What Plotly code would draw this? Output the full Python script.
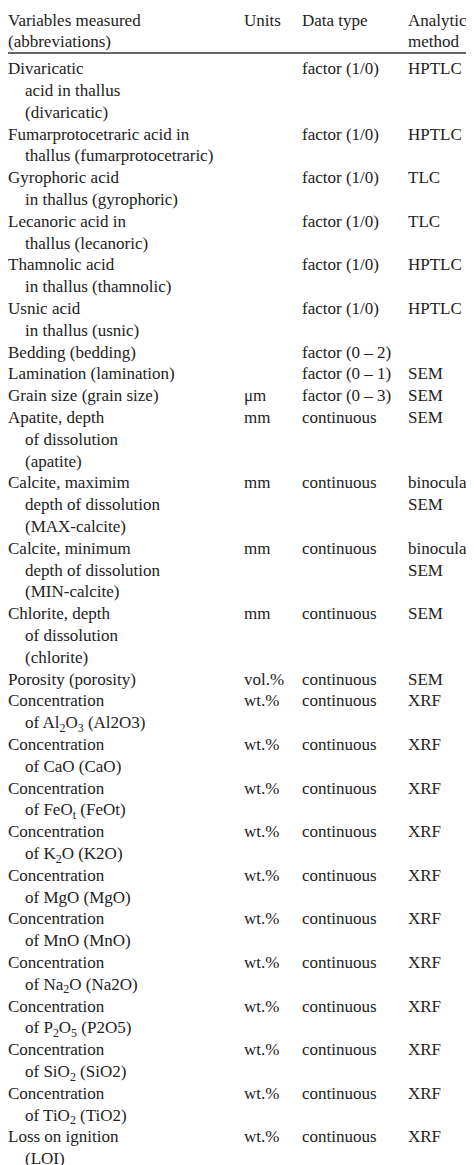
import plotly.graph_objects as go

# Table contents: variable name lines, units, data type, method
variables = [
    ["Divaricatic", "acid in thallus", "(divaricatic)"],
    ["Fumarprotocetraric acid in", "thallus (fumarprotocetraric)"],
    ["Gyrophoric acid", "in thallus (gyrophoric)"],
    ["Lecanoric acid in", "thallus (lecanoric)"],
    ["Thamnolic acid", "in thallus (thamnolic)"],
    ["Usnic acid", "in thallus (usnic)"],
    ["Bedding (bedding)"],
    ["Lamination (lamination)"],
    ["Grain size (grain size)"],
    ["Apatite, depth", "of dissolution", "(apatite)"],
    ["Calcite, maximim", "depth of dissolution", "(MAX-calcite)"],
    ["Calcite, minimum", "depth of dissolution", "(MIN-calcite)"],
    ["Chlorite, depth", "of dissolution", "(chlorite)"],
    ["Porosity (porosity)"],
    ["Concentration", "of Al<sub>2</sub>O<sub>3</sub> (Al2O3)"],
    ["Concentration", "of CaO (CaO)"],
    ["Concentration", "of FeO<sub>t</sub> (FeOt)"],
    ["Concentration", "of K<sub>2</sub>O (K2O)"],
    ["Concentration", "of MgO (MgO)"],
    ["Concentration", "of MnO (MnO)"],
    ["Concentration", "of Na<sub>2</sub>O (Na2O)"],
    ["Concentration", "of P<sub>2</sub>O<sub>5</sub> (P2O5)"],
    ["Concentration", "of SiO<sub>2</sub> (SiO2)"],
    ["Concentration", "of TiO<sub>2</sub> (TiO2)"],
    ["Loss on ignition", "(LOI)"],
]
units = ["", "", "", "", "", "", "", "", "μm", "mm", "mm", "mm", "mm", "vol.%"] + ["wt.%"] * 11
data_types = ["factor (1/0)"] * 6 + ["factor (0 – 2)", "factor (0 – 1)", "factor (0 – 3)"] + ["continuous"] * 16
methods = [["HPTLC"], ["HPTLC"], ["TLC"], ["TLC"], ["HPTLC"], ["HPTLC"], [""], ["SEM"], ["SEM"],
           ["SEM"], ["binocular/", "SEM"], ["binocular/", "SEM"], ["SEM"], ["SEM"]] + [["XRF"]] * 11

headers = [["Variables measured", "(abbreviations)"], ["Units"], ["Data type"], ["Analytical", "method"]]
col_x = [0, 236, 294, 400]
indent = 17

xs, ys, texts = [], [], []
# header rows
hy = [-2.23, -1.23]
for c, lines in enumerate(headers):
    for k, t in enumerate(lines):
        xs.append(col_x[c]); ys.append(hy[k]); texts.append(t)

line = 0
for name, u, dt, m in zip(variables, units, data_types, methods):
    for k, t in enumerate(name):
        xs.append(col_x[0] + (indent if k else 0)); ys.append(line + k); texts.append(t)
    for c, t in ((1, u), (2, dt)):
        if t:
            xs.append(col_x[c]); ys.append(line); texts.append(t)
    for k, t in enumerate(m):
        if t:
            xs.append(col_x[3]); ys.append(line + k); texts.append(t)
    line += len(name)

fig = go.Figure(go.Scatter(
    x=xs, y=ys, text=texts, mode="text", textposition="middle right",
    textfont=dict(family="Liberation Serif", size=17, color="#222222"),
    hoverinfo="skip",
))

fig.add_shape(type="line", x0=0, x1=474, y0=-0.78, y1=-0.78, xref="x", yref="y",
              line=dict(color="#333333", width=1.6))

fig.update_layout(
    width=474, height=1165, margin=dict(l=0, r=0, t=0, b=0),
    plot_bgcolor="white", paper_bgcolor="white", showlegend=False,
    xaxis=dict(range=[0, 474], visible=False),
    yaxis=dict(range=[50.6, -2.844], visible=False),
)

fig.write_html("out.html")
